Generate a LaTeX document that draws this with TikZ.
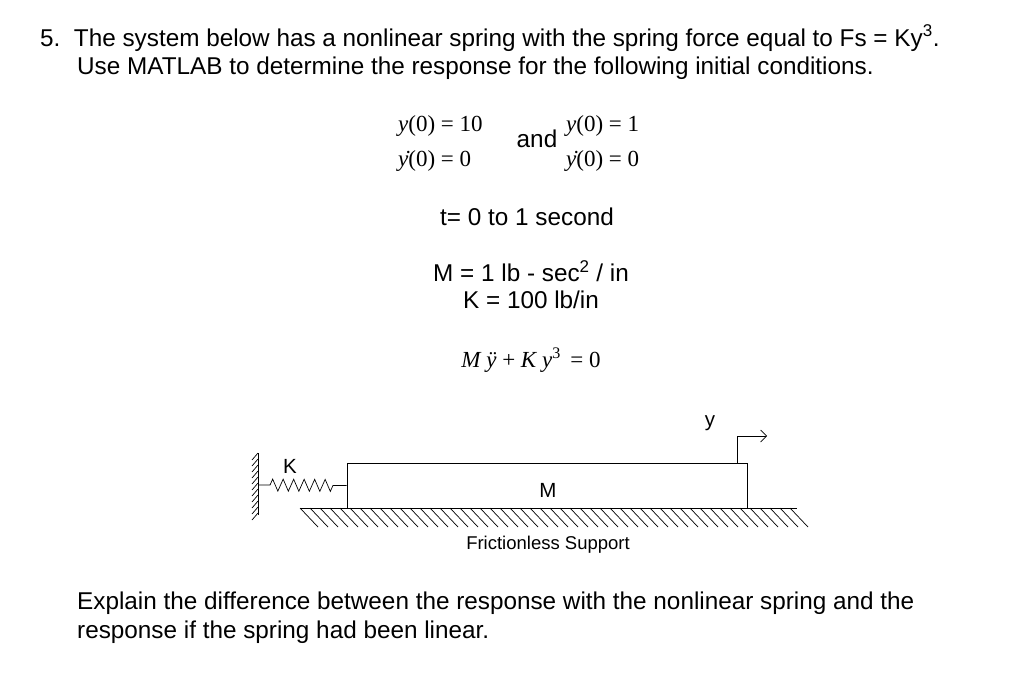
\documentclass[tikz,border=0pt]{standalone}
\usepackage{fontspec}
\setmainfont{Liberation Sans}
\newfontfamily\tms{Liberation Serif}
\usetikzlibrary{decorations.pathmorphing,arrows.meta}
\begin{document}
\begin{tikzpicture}[x=1pt,y=-1pt,
 txt/.style={inner sep=0,font=\fontsize{24.3}{26}\selectfont},
 sm/.style={inner sep=0,font=\fontsize{20.5}{22}\selectfont},
 eq/.style={inner sep=0,font=\tms\fontsize{23}{25}\selectfont},
 ln/.style={line width=0.7pt}]
\useasboundingbox (0,0) rectangle (1024,683);
\node[txt,anchor=base west] (t1) at (40,46) {5.\ \ The system below has a nonlinear spring with the spring force equal to Fs = Ky\textsuperscript{3}.};
\node[txt,anchor=base west] (t2) at (77,74) {Use MATLAB to determine the response for the following initial conditions.};
\node[eq,anchor=base west] (a1) at (398,131) {\textit{y}(0) = 10};
\node[eq,anchor=base west] (a2) at (398,166) {\.{\textit{y}}(0) = 0};
\node[txt] (and) at (537,139) {and};
\node[eq,anchor=base west] (b1) at (566,131) {\textit{y}(0) = 1};
\node[eq,anchor=base west] (b2) at (566,166) {\.{\textit{y}}(0) = 0};
\node[txt] (t) at (527,217) {t= 0 to 1 second};
\node[txt] (m) at (531,271) {M = 1 lb - sec\textsuperscript{2} / in};
\node[txt] (k) at (531,300) {K = 100 lb/in};
\node[eq] (eqn) at (531,360) {\textit{M \"y} + \textit{K y}\textsuperscript{3} \,= 0};
% wall
\draw[ln] (258,453) -- (258,515);
\foreach \yy in {453,459,...,515} \draw[ln] (258,\yy) -- (252,\yy+7);
% ground
\draw[ln] (300,508) -- (797,508);
\foreach \xx in {300,310,...,790} \draw[ln] (\xx,508) -- (\xx+18,527);
% block
\node[draw,ln,minimum width=400pt,minimum height=45pt,inner sep=0] (blk) at (547,485.5) {};
\node[sm] (M) at (548,490) {M};
\coordinate (w) at (258,485);
\draw[ln,decorate,decoration={zigzag,segment length=10.5pt,amplitude=6pt,pre length=12pt,post length=10pt}] (w) -- (blk.west);
\node[sm] (K) at (290,466) {K};
\coordinate (p0) at (737,463);
\coordinate (p1) at (737,436);
\coordinate (p2) at (767,436);
\draw[ln,-{Straight Barb[length=6pt]}] (p0) -- (p1) -- (p2);
\node[sm] (y) at (710,423) {y};
\node[inner sep=0,font=\fontsize{18.5}{20}\selectfont] (fs) at (548,545) {Frictionless Support};
\node[txt,anchor=base west] (e1) at (77,609) {Explain the difference between the response with the nonlinear spring and the};
\node[txt,anchor=base west] (e2) at (77,638) {response if the spring had been linear.};
\end{tikzpicture}
\end{document}
